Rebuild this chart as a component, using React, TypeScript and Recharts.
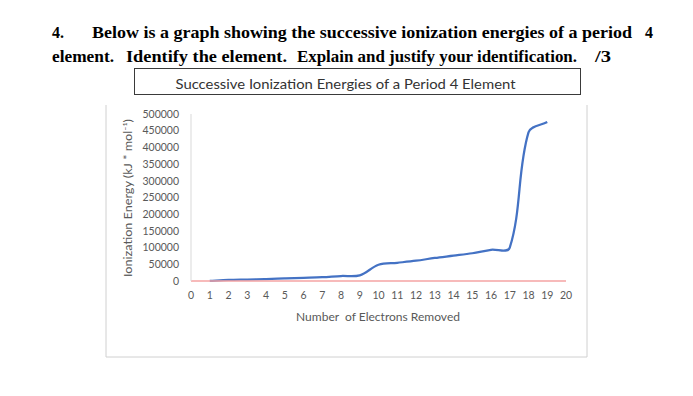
import { LineChart, Line, XAxis, YAxis } from 'recharts';

// successive ionization energies (kJ/mol)
const electronsRemoved = [1, 2, 3, 4, 5, 6, 7, 8, 9, 10, 11, 12, 13, 14, 15, 16, 17, 18, 19];
const ionizationEnergies = [
  419, 3050, 4420, 5880, 7980, 9590, 11340, 14940, 16960, 48600,
  54500, 60700, 68950, 75900, 83100, 93400, 99700, 444900, 476000,
];
const xTicks = [0, 1, 2, 3, 4, 5, 6, 7, 8, 9, 10, 11, 12, 13, 14, 15, 16, 17, 18, 19, 20];
const yTicks = [0, 50000, 100000, 150000, 200000, 250000, 300000, 350000, 400000, 450000, 500000];

const data = electronsRemoved.map((n, i) => ({ n, ie: ionizationEnergies[i] }));

// Excel-style smoothed line: bezier through the points, tangent along the
// neighbour chord, handle length scaled to the segment so it doesn't overshoot much
const excelSmooth = (context: any) => {
  let pts: number[][] = [];
  const unit = (a: number[], b: number[]) => {
    const dx = b[0] - a[0];
    const dy = b[1] - a[1];
    const len = Math.hypot(dx, dy) || 1;
    return [dx / len, dy / len];
  };
  return {
    areaStart() {},
    areaEnd() {},
    lineStart() {
      pts = [];
    },
    point(x: number, y: number) {
      pts.push([+x, +y]);
    },
    lineEnd() {
      if (!pts.length) return;
      context.moveTo(pts[0][0], pts[0][1]);
      for (let i = 0; i < pts.length - 1; i++) {
        const p0 = pts[i - 1] || pts[i];
        const p1 = pts[i];
        const p2 = pts[i + 1];
        const p3 = pts[i + 2] || p2;
        const seg = Math.hypot(p2[0] - p1[0], p2[1] - p1[1]) / 3;
        const d1 = unit(p0, p2);
        const d2 = unit(p1, p3);
        context.bezierCurveTo(
          p1[0] + d1[0] * seg,
          p1[1] + d1[1] * seg,
          p2[0] - d2[0] * seg,
          p2[1] - d2[1] * seg,
          p2[0],
          p2[1]
        );
      }
    },
  };
};

const tickStyle = { fill: '#595959', fontSize: 10.5, fontFamily: 'Lato, sans-serif' };
const serif = '"Liberation Serif", serif';
const sans = 'Lato, sans-serif';

export default function App() {
  return (
    <div style={{ position: 'absolute', left: 0, top: 0, width: 693, height: 396, background: '#fff' }}>
      <div style={{ position: 'absolute', left: 106, top: 105 }}>
        <LineChart width={481} height={252} data={data} margin={{ top: 9, right: 21, left: 0, bottom: 0 }}>
          <XAxis
            type="number"
            dataKey="n"
            domain={[0, 20]}
            ticks={xTicks}
            interval={0}
            height={76}
            tickLine={false}
            tickMargin={5}
            axisLine={{ stroke: '#F4A3A3', strokeWidth: 1.5 }}
            tick={tickStyle}
          />
          <YAxis
            domain={[0, 500000]}
            ticks={yTicks}
            interval={0}
            width={85}
            tickLine={false}
            tickMargin={6}
            axisLine={{ stroke: '#D9D9D9' }}
            tick={tickStyle}
          />
          <Line
            dataKey="ie"
            type={excelSmooth as any}
            stroke="#4472C4"
            strokeWidth={2.25}
            dot={false}
            isAnimationActive={false}
          />
        </LineChart>
      </div>
      <svg
        width={693}
        height={396}
        style={{ position: 'absolute', left: 0, top: 0, pointerEvents: 'none' }}
      >
        {/* chart frame */}
        <line x1={106} y1={105} x2={106} y2={357} stroke="#D0D0D0" />
        <line x1={587} y1={105} x2={587} y2={357} stroke="#D0D0D0" />
        <line x1={106} y1={357} x2={587} y2={357} stroke="#D0D0D0" />

        {/* question */}
        <g fontFamily={serif} fontWeight="bold" fontSize={16} fill="#000">
          <text x={52} y={38}>4.</text>
          <text x={92} y={38} textLength={540} lengthAdjust="spacingAndGlyphs">
            Below is a graph showing the successive ionization energies of a period
          </text>
          <text x={645} y={38}>4</text>
          <text x={52} y={62} textLength={62} lengthAdjust="spacingAndGlyphs">element.</text>
          <text x={126} y={62} textLength={161} lengthAdjust="spacingAndGlyphs">Identify the element.</text>
          <text x={297} y={62} textLength={280} lengthAdjust="spacingAndGlyphs">
            Explain and justify your identification.
          </text>
          <text x={595} y={62} textLength={16} lengthAdjust="spacingAndGlyphs">/3</text>
        </g>

        {/* title box */}
        <rect x={134.5} y={68.5} width={446} height={26} fill="#fff" stroke="#3A3A3A" />
        <text
          x={175.5}
          y={89}
          fontFamily={sans}
          fontSize={13.5}
          fill="#333"
          textLength={340}
          lengthAdjust="spacingAndGlyphs"
        >
          Successive Ionization Energies of a Period 4 Element
        </text>

        {/* axis titles */}
        <text
          x={296}
          y={321}
          fontFamily={sans}
          fontSize={11}
          fill="#595959"
          textLength={164}
          lengthAdjust="spacingAndGlyphs"
          xmlSpace="preserve"
        >
          Number  of Electrons Removed
        </text>
        <text
          x={0}
          y={0}
          transform="translate(131.5,198) rotate(-90)"
          textAnchor="middle"
          fontFamily={sans}
          fontSize={11}
          fill="#595959"
          textLength={158}
          lengthAdjust="spacingAndGlyphs"
        >
          Ionization Energy (kJ * mol⁻¹)
        </text>
      </svg>
    </div>
  );
}
